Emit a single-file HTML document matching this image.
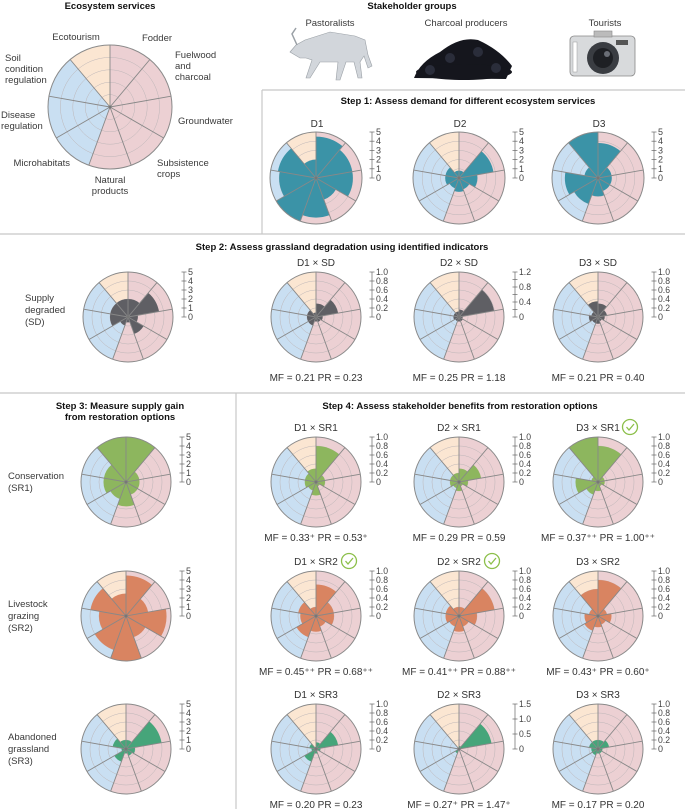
<!DOCTYPE html>
<html><head><meta charset="utf-8">
<style>
body{margin:0;background:#fff;}
svg{display:block;font-family:"Liberation Sans",sans-serif;}
.t{font-weight:bold;font-size:9.5px;fill:#111;}
.ct{font-size:10px;fill:#333;}
.tk{font-size:9px;fill:#444;}
.lb{font-size:9.5px;fill:#3a3a3a;}
</style></head><body>
<svg id="fig" width="685" height="809" viewBox="0 0 685 809">
<line x1="262" y1="90" x2="685" y2="90" stroke="#c8c8c8" stroke-width="1.2"/>
<line x1="262" y1="90" x2="262" y2="234" stroke="#c8c8c8" stroke-width="1.2"/>
<line x1="0" y1="234" x2="685" y2="234" stroke="#c8c8c8" stroke-width="1.2"/>
<line x1="0" y1="393" x2="685" y2="393" stroke="#c8c8c8" stroke-width="1.2"/>
<line x1="236" y1="393" x2="236" y2="809" stroke="#c8c8c8" stroke-width="1.2"/>

<text class="t" x="110" y="9" text-anchor="middle">Ecosystem services</text>
<text class="t" x="412" y="9" text-anchor="middle">Stakeholder groups</text>
<text class="t" x="468" y="104" text-anchor="middle">Step 1: Assess demand for different ecosystem services</text>
<text class="t" x="342" y="250" text-anchor="middle">Step 2: Assess grassland degradation using identified indicators</text>
<text class="t" x="120" y="409" text-anchor="middle"><tspan x="120">Step 3: Measure supply gain</tspan><tspan x="120" dy="11">from restoration options</tspan></text>
<text class="t" x="460" y="409" text-anchor="middle">Step 4: Assess stakeholder benefits from restoration options</text>

<g>
<text class="lb" x="330" y="26" text-anchor="middle">Pastoralists</text>
<path d="M290 52 L296 45 L305 40 L330 32 L355 36 L365 40 L368 55 L372 66 L368 68 L364 56 L360 62 L362 78 L358 78 L354 62 L346 62 L340 80 L336 80 L338 62 L320 62 L310 78 L306 78 L312 60 L306 58 L300 58 Z" fill="#d2d6db" stroke="#9aa0a6" stroke-width="0.6"/>
<path d="M297 45 L292 34 L296 28" fill="none" stroke="#9aa0a6" stroke-width="1.5"/>
</g>
<g>
<text class="lb" x="466" y="26" text-anchor="middle">Charcoal producers</text>
<path d="M414 78 Q420 62 440 52 Q460 36 478 40 Q500 50 512 66 L506 79 Z" fill="#15161d"/>
<ellipse cx="464" cy="72" rx="48" ry="8" fill="#15161d"/>
<circle cx="450" cy="58" r="5" fill="#2a2d3a"/><circle cx="478" cy="52" r="5" fill="#2a2d3a"/><circle cx="430" cy="70" r="5" fill="#2a2d3a"/><circle cx="496" cy="68" r="5" fill="#2a2d3a"/>
</g>
<g>
<text class="lb" x="605" y="26" text-anchor="middle">Tourists</text>
<rect x="570" y="36" width="65" height="40" rx="4" fill="#d8dadc" stroke="#888" stroke-width="0.8"/>
<rect x="594" y="31" width="18" height="6" fill="#bbb" stroke="#888" stroke-width="0.6"/>
<rect x="573" y="42" width="4" height="30" fill="#fff" stroke="#999" stroke-width="0.5"/>
<circle cx="603" cy="58" r="16" fill="#3a3d42"/><circle cx="603" cy="58" r="10" fill="#1e2024"/><circle cx="607" cy="54" r="3" fill="#6a6e76"/>
<rect x="616" y="40" width="12" height="5" fill="#555"/>
</g>

<g id="charts"></g>
</svg>
<script>
const services = ["Fodder","Fuelwood and charcoal","Groundwater","Subsistence crops","Natural products","Microhabitats","Disease regulation","Soil condition regulation","Ecotourism"];
const d1 = [4.5,4.0,4.0,2.5,4.3,5.0,4.0,4.2,2.0];
const d2 = [0.8,3.8,2.0,1.3,1.5,1.2,1.5,1.5,0.8];
const d3 = [3.8,1.5,1.5,1.5,2.0,3.0,3.6,1.5,5.0];
const sd = [2.0,3.5,1.1,2.0,0.6,1.0,2.0,2.0,2.0];
const d1sd = [0.3,0.5,0.15,0.12,0.1,0.2,0.2,0.2,0.1];
const d2sd = [0.2,0.95,0.1,0.12,0.12,0.12,0.15,0.15,0.15];
const d3sd = [0.3,0.2,0.15,0.1,0.15,0.15,0.2,0.15,0.35];
const sr1 = [5.0,1.5,1.5,1.5,2.7,2.0,2.5,2.5,5.0];
const d1sr1 = [0.8,0.2,0.2,0.1,0.3,0.2,0.25,0.25,0.3];
const d2sr1 = [0.3,0.5,0.2,0.1,0.2,0.15,0.2,0.2,0.2];
const d3sr1 = [0.8,0.15,0.15,0.1,0.2,0.3,0.5,0.15,1.0];
const sr2 = [4.5,2.5,4.5,2.5,5.0,4.0,3.0,4.0,2.5];
const d1sr2 = [0.7,0.4,0.4,0.25,0.35,0.5,0.35,0.4,0.2];
const d2sr2 = [0.2,0.8,0.4,0.25,0.35,0.25,0.3,0.3,0.2];
const d3sr2 = [0.8,0.2,0.3,0.2,0.25,0.35,0.3,0.2,0.6];
const sr3 = [1.0,4.0,1.0,0.8,0.5,1.5,0.5,1.5,1.0];
const d1sr3 = [0.15,0.5,0.1,0.05,0.1,0.3,0.1,0.15,0.05];
const d2sr3 = [0.1,1.1,0.05,0.05,0.05,0.15,0.05,0.05,0.05];
const d3sr3 = [0.2,0.25,0.1,0.1,0.1,0.15,0.15,0.2,0.2];
const ticks5 = ["0","1","2","3","4","5"];
const ticks1 = ["0","0.2","0.4","0.6","0.8","1.0"];
const ticks12 = ["0","0.4","0.8","1.2"];
const ticks15 = ["0","0.5","1.0","1.5"];

const NS="http://www.w3.org/2000/svg";
const root=document.getElementById("charts");
const bgCol=["#ecd0d3","#ecd0d3","#ecd0d3","#ecd0d3","#ecd0d3","#c9dff2","#c9dff2","#c9dff2","#fbe6d2"];
function el(tag,attrs,parent){const e=document.createElementNS(NS,tag);for(const k in attrs)e.setAttribute(k,attrs[k]);(parent||root).appendChild(e);return e;}
function pt(cx,cy,r,deg){const a=(deg-90)*Math.PI/180;return [cx+r*Math.cos(a),cy+r*Math.sin(a)];}
function wedge(cx,cy,r,a0,a1){const p0=pt(cx,cy,r,a0),p1=pt(cx,cy,r,a1);return `M${cx} ${cy}L${p0[0]} ${p0[1]}A${r} ${r} 0 0 1 ${p1[0]} ${p1[1]}Z`;}
function text(x,y,s,cls,anchor,parent){const t=el("text",{x:x,y:y,class:cls,"text-anchor":anchor||"middle"},parent);t.textContent=s;return t;}

function polar(name,cx,cy,R,max,vals,color,tickLabels,tickMax){
  const g=el("g",{});
  
  
  const rs=v=>Math.min(v,max)/max*R;
  for(let i=0;i<9;i++){
    const s=el("path",{d:wedge(cx,cy,R,i*40,(i+1)*40),fill:bgCol[i]},g);
    
    
  }
  for(let k=1;k<5;k++) el("circle",{cx:cx,cy:cy,r:R*k/5,fill:"none",stroke:"#bdb6b8","stroke-width":0.5},g);
  for(let i=0;i<9;i++){
    const w=el("path",{d:wedge(cx,cy,rs(vals[i]),i*40,(i+1)*40),fill:color},g);
    
    
  }
  for(let i=0;i<9;i++){const p=pt(cx,cy,R,i*40);el("line",{x1:cx,y1:cy,x2:p[0],y2:p[1],stroke:"#888","stroke-width":0.9},g);}
  el("circle",{cx:cx,cy:cy,r:R,fill:"none",stroke:"#8a8a8a","stroke-width":1},g);
  el("circle",{cx:cx,cy:cy,r:1.5,fill:"#777"},g);
  if(tickLabels){
    const ax=el("g",{},g);
    
    
    const x=cx+56, tm=tickMax;
    el("line",{x1:x,y1:cy,x2:x,y2:cy-R,stroke:"#666","stroke-width":0.7},ax);
    const n=tickLabels.length-1;
    const minor = (tm===1.2)?6:n;
    for(let k=0;k<=minor;k++){const y=cy-R*k/minor;el("line",{x1:x-2.5,y1:y,x2:x+2.5,y2:y,stroke:"#666","stroke-width":0.7},ax);}
    tickLabels.forEach((l,k)=>{const y=cy-R*k/n;const t=text(x+4,y+3,l,"tk","start",ax);t.setAttribute("textLength",l.length>1?12:5);t.setAttribute("lengthAdjust","spacingAndGlyphs");});
  }
  return g;
}
function check(name,x,y){
  const g=el("g",{});
  
  
  el("circle",{cx:x,cy:y,r:7.5,fill:"#fff",stroke:"#8cbf4a","stroke-width":1.3},g);
  el("path",{d:`M${x-3.5} ${y} L${x-1} ${y+3} L${x+4} ${y-3}`,fill:"none",stroke:"#8cbf4a","stroke-width":1.3},g);
}
function title(name,x,y,s){const t=text(x,y,s,"ct","middle");}

polar("ecosystem-services-chart",110,107,62,5,[0,0,0,0,0,0,0,0,0],"#000",null,0);
const labs=[["Ecotourism",76,40,"middle"],["Fodder",157,41,"middle"],["Fuelwood",175,58,"start"],["and",175,69,"start"],["charcoal",175,80,"start"],["Groundwater",178,124,"start"],["Subsistence",157,166,"start"],["crops",157,177,"start"],["Natural",110,183,"middle"],["products",110,194,"middle"],["Microhabitats",70,166,"end"],["Disease",1,118,"start"],["regulation",1,129,"start"],["Soil",5,61,"start"],["condition",5,72,"start"],["regulation",5,83,"start"]];
labs.forEach(l=>{const t=text(l[1],l[2],l[0],"lb",l[3]);});

const teal="#3b93a7", grey="#5f5f64", g1="#8db65e", org="#d98461", g3="#46a57a";
const xs=[316,459,598];
[["D1",d1],["D2",d2],["D3",d3]].forEach((c,i)=>{title("title-"+c[0].toLowerCase(),xs[i]+1,127,c[0]);polar("chart-"+c[0].toLowerCase(),xs[i],178,46,5,c[1],teal,ticks5,5);});
polar("chart-sd",128,317,45,5,sd,grey,ticks5,5);
text(25,301,"Supply","lb","start");text(25,313,"degraded","lb","start");text(25,325,"(SD)","lb","start");
const s2=[["D1 × SD",d1sd,1,ticks1,"MF = 0.21   PR = 0.23"],["D2 × SD",d2sd,1.2,ticks12,"MF = 0.25   PR = 1.18"],["D3 × SD",d3sd,1,ticks1,"MF = 0.21   PR = 0.40"]];
s2.forEach((c,i)=>{title("title-d"+(i+1)+"-sd",xs[i],266,c[0]);polar("chart-d"+(i+1)+"-sd",xs[i],317,45,c[2],c[1],grey,c[3],c[2]);const t=text(xs[i],381,c[4],"ct","middle");});
const rowsY=[482,616,749];
polar("chart-sr1",126,rowsY[0],45,5,sr1,g1,ticks5,5);
polar("chart-sr2",126,rowsY[1],45,5,sr2,org,ticks5,5);
polar("chart-sr3",126,rowsY[2],45,5,sr3,g3,ticks5,5);
[["Conservation","(SR1)"],["Livestock","grazing","(SR2)"],["Abandoned","grassland","(SR3)"]].forEach((ls,r)=>{const y0=rowsY[r]-(ls.length-1)*6+3;ls.forEach((s,k)=>text(8,y0+k*12,s,"lb","start"));});
const s4=[
 [["D1 × SR1",d1sr1,1,ticks1,"MF = 0.33⁺  PR = 0.53⁺"],["D2 × SR1",d2sr1,1,ticks1,"MF = 0.29   PR = 0.59"],["D3 × SR1",d3sr1,1,ticks1,"MF = 0.37⁺⁺  PR = 1.00⁺⁺"]],
 [["D1 × SR2",d1sr2,1,ticks1,"MF = 0.45⁺⁺  PR = 0.68⁺⁺"],["D2 × SR2",d2sr2,1,ticks1,"MF = 0.41⁺⁺  PR = 0.88⁺⁺"],["D3 × SR2",d3sr2,1,ticks1,"MF = 0.43⁺  PR = 0.60⁺"]],
 [["D1 × SR3",d1sr3,1,ticks1,"MF = 0.20   PR = 0.23"],["D2 × SR3",d2sr3,1.5,ticks15,"MF = 0.27⁺  PR = 1.47⁺"],["D3 × SR3",d3sr3,1,ticks1,"MF = 0.17   PR = 0.20"]]];
const cols=[g1,org,g3];
s4.forEach((row,r)=>row.forEach((c,i)=>{
  const cy=rowsY[r];
  title("title-d"+(i+1)+"-sr"+(r+1),xs[i],cy-51,c[0]);
  polar("chart-d"+(i+1)+"-sr"+(r+1),xs[i],cy,45,c[2],c[1],cols[r],c[3],c[2]);
  const t=text(xs[i],cy+59,c[4],"ct","middle");
}));
check("check-d3-sr1",630,427);
check("check-d1-sr2",349,561);
check("check-d2-sr2",492,561);
</script>
</body></html>
